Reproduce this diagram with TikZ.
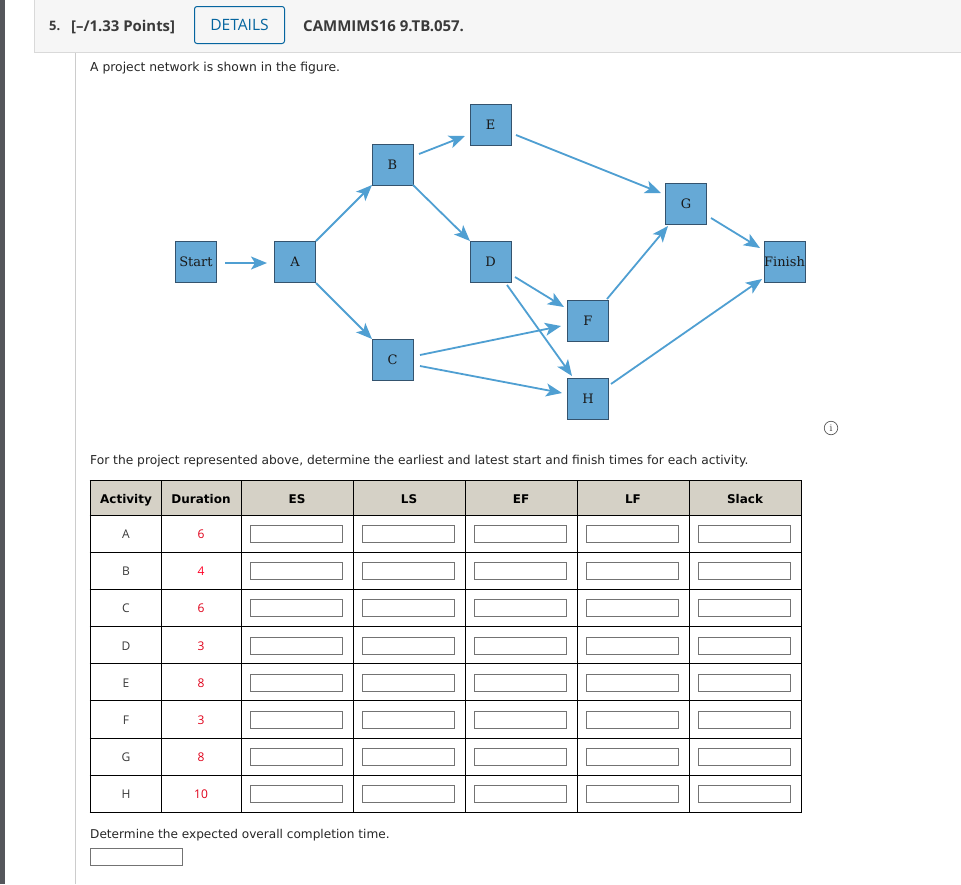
\documentclass[tikz,border=0pt]{standalone}
\usepackage{fontspec}
\setmainfont{DejaVu Sans}
\newfontfamily\opensans{Open Sans}
\newfontfamily\nodeserif{DejaVu Serif}
\usetikzlibrary{arrows.meta}
\definecolor{arrowblue}{HTML}{4F9FD2}
\definecolor{boxblue}{HTML}{66A9D6}
\definecolor{boxedge}{HTML}{34536E}
\definecolor{headfill}{HTML}{D5D1C6}
\definecolor{detailblue}{HTML}{05659F}
\definecolor{inkdark}{HTML}{3A3A3A}
\definecolor{redval}{HTML}{E0001A}
\definecolor{sidebar}{HTML}{55565B}
\definecolor{bandfill}{HTML}{F6F6F6}
\tikzset{
  net/.style={draw=boxedge,line width=1pt,fill=boxblue,minimum width=41pt,minimum height=41pt,inner sep=0pt,outer sep=0pt,font=\nodeserif\fontsize{13}{14}\selectfont,text=black!90},
  arr/.style={draw=arrowblue,line width=1.8pt,-{Stealth[length=16pt,width=13pt,inset=4pt]}},
  txt/.style={anchor=base west,inner sep=0pt,font=\fontsize{12.25}{14}\selectfont,text=black!85},
  hdr/.style={anchor=base,inner sep=0pt,font=\bfseries\fontsize{12}{14}\selectfont,text=black},
  cell/.style={anchor=base,inner sep=0pt,font=\opensans\fontsize{12}{14}\selectfont},
  inbox/.style={draw=black!55,line width=1pt,fill=white,minimum width=92pt,minimum height=17pt,inner sep=0pt,outer sep=0pt},
  grid/.style={draw=black,line width=1pt}
}
\begin{document}
\begin{tikzpicture}[x=1pt,y=-1pt]
\useasboundingbox (0,0) rectangle (961,884);
\fill[white] (0,0) rectangle (961,884);
\fill[sidebar] (0,0) rectangle (5,884);
\fill[bandfill] (34,0) rectangle (961,52);
\draw[black!15,line width=1pt] (34,0) -- (34,52.5) -- (961,52.5);
\draw[black!20,line width=1pt] (75.5,53) -- (75.5,884);
% header
\node[anchor=base west,inner sep=0pt,font=\opensans\bfseries\fontsize{13}{14}\selectfont,text=inkdark] (qnum) at (49,30) {5.};
\node[anchor=base west,inner sep=0pt,font=\opensans\bfseries\fontsize{14.9}{16}\selectfont,text=inkdark] (pts) at (71,31) {[–/1.33 Points]};
\node[draw=detailblue,line width=1pt,rounded corners=2.5pt,minimum width=90pt,minimum height=37pt,inner sep=0pt,font=\opensans\fontsize{15.6}{16}\selectfont,text=detailblue] (details) at (239.5,25) {\raisebox{-0.5pt}{DETAILS}};
\node[anchor=base west,inner sep=0pt,font=\opensans\bfseries\fontsize{15}{16}\selectfont,text=inkdark] (code) at (303,31) {CAMMIMS16 9.TB.057.};
\node[anchor=base west,inner sep=0pt,font=\fontsize{12.35}{14}\selectfont,text=black!85] (intro) at (90,71) {A project network is shown in the figure.};
% network
\node[net] (start) at (196,262) {\raisebox{-2pt}{Start}};
\node[net] (a) at (295,262) {\raisebox{-2pt}{A}};
\node[net] (b) at (392.5,164.5) {\raisebox{-2pt}{B}};
\node[net] (e) at (490.5,125) {\raisebox{-2pt}{E}};
\node[net] (d) at (490.5,262) {\raisebox{-2pt}{D}};
\node[net] (c) at (392.5,360) {\raisebox{-2pt}{C}};
\node[net] (f) at (588,320.5) {\raisebox{-2pt}{F}};
\node[net] (h) at (588,399) {\raisebox{-2pt}{H}};
\node[net] (g) at (686,203.5) {\raisebox{-2pt}{G}};
\node[net] (finish) at (784.5,261.5) {\raisebox{-2pt}{Finish}};
\draw[arr] ([shift={(29,1)}]start.center) -- ([shift={(-28,1)}]a.center);
\draw[arr] ([shift={(21,-21)}]a.center) -- ([shift={(-20.5,20.5)}]b.center);
\draw[arr] ([shift={(21,21)}]a.center) -- ([shift={(-20.5,-21)}]c.center);
\draw[arr] ([shift={(26.5,-10.5)}]b.center) -- ([shift={(-25.5,11)}]e.center);
\draw[arr] ([shift={(20.5,20.5)}]b.center) -- ([shift={(-20.5,-21)}]d.center);
\draw[arr] ([shift={(25.5,10)}]e.center) -- ([shift={(-25,-10.5)}]g.center);
\draw[arr] ([shift={(24.5,15)}]d.center) -- ([shift={(-24,-13.5)}]f.center);
\draw[arr] ([shift={(16.5,23)}]d.center) -- ([shift={(-16,-23)}]h.center);
\draw[arr] ([shift={(27.5,-5)}]c.center) -- ([shift={(-27,5.5)}]f.center);
\draw[arr] ([shift={(27.5,6)}]c.center) -- ([shift={(-26,-6)}]h.center);
\draw[arr] ([shift={(19,-21.5)}]f.center) -- ([shift={(-18,22.5)}]g.center);
\draw[arr] ([shift={(25,14.5)}]g.center) -- ([shift={(-24.5,-13.5)}]finish.center);
\draw[arr] ([shift={(23,-15)}]h.center) -- ([shift={(-22.5,17.5)}]finish.center);
% info icon
\node[draw=black!65,circle,line width=0.7pt,minimum size=13.5pt,inner sep=0pt,font=\nodeserif\fontsize{9}{10}\selectfont,text=black!70] (info) at (831,428) {i};
\node[txt] (q) at (90,464) {For the project represented above, determine the earliest and latest start and finish times for each activity.};
% table
\fill[headfill] (90,480) rectangle (801,515);
\foreach \yy in {480,515,552,589,626,663,700,738,775,812} \draw[grid] (89.5,\yy+0.5) -- (801.5,\yy+0.5);
\foreach \xx in {90,161,241,353,465,577,689,801} \draw[grid] (\xx,480) -- (\xx,813);
\node[hdr] (h1) at (126,503) {Activity};
\node[hdr] (h2) at (201,503) {Duration};
\node[hdr] (h3) at (297,503) {ES};
\node[hdr] (h4) at (409,503) {LS};
\node[hdr] (h5) at (521,503) {EF};
\node[hdr] (h6) at (633,503) {LF};
\node[hdr] (h7) at (745,503) {Slack};
\foreach \lab/\dur/\yy/\dc in {A/6/538/redval,B/4/575/{red!85!magenta},C/6/612/redval,D/3/650/redval,E/8/687/redval,F/3/724/redval,G/8/761/redval,H/10/798/redval}{
  \node[cell,text=inkdark] (act\lab) at (126,\yy) {\lab};
  \node[cell,text=\dc] (dur\lab) at (201,\yy) {\dur};
  \foreach \xx in {297,409,521,633,745}
    \node[inbox] (in\lab\xx) at (\xx-0.5,\yy-4.5) {};
}
\node[anchor=base west,inner sep=0pt,font=\fontsize{12.12}{14}\selectfont,text=black!85] (last) at (90,838) {Determine the expected overall completion time.};
\node[inbox] (total) at (136,857) {};
\end{tikzpicture}
\end{document}
